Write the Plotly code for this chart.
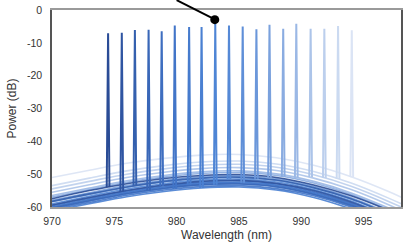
import plotly.graph_objects as go

# ---- data ----
ase_wl = [970, 973, 976, 979, 982, 985, 988, 991, 994, 997, 1000]
ase_curves = [
    [-57.5, -55.0, -52.9, -51.3, -50.4, -50.1, -51.0, -53.3, -56.6, -61.0, -66.0],
    [-59.4, -57.1, -55.0, -53.3, -52.2, -51.9, -52.8, -55.0, -58.5, -63.0, -68.0],
    [-58.3, -56.0, -53.9, -52.2, -51.2, -50.9, -51.8, -54.1, -57.5, -62.1, -67.0],
    [-60.3, -58.1, -55.9, -54.3, -53.2, -52.9, -53.8, -56.1, -59.5, -64.0, -69.0],
    [-59.6, -57.3, -55.1, -53.5, -52.4, -52.0, -52.9, -55.3, -58.8, -63.3, -68.5],
    [-60.8, -58.6, -56.4, -54.8, -53.8, -53.5, -54.4, -56.6, -60.0, -64.5, -69.5],
    [-60.0, -57.7, -55.5, -53.9, -52.8, -52.5, -53.4, -55.7, -59.2, -63.8, -69.0],
    [-61.2, -59.0, -56.9, -55.3, -54.2, -53.9, -54.8, -57.1, -60.6, -65.0, -70.0],
    [-60.5, -58.2, -56.0, -54.4, -53.3, -53.0, -53.9, -56.2, -59.7, -64.3, -69.5],
    [-59.0, -56.7, -54.5, -52.9, -51.8, -51.5, -52.4, -54.7, -58.2, -62.8, -68.0],
    [-60.0, -57.8, -55.5, -53.9, -52.8, -52.5, -53.4, -55.7, -59.1, -63.7, -69.0],
    [-58.4, -56.2, -54.0, -52.4, -51.3, -51.0, -51.9, -54.2, -57.6, -62.2, -67.5],
    [-58.0, -55.7, -53.5, -51.9, -50.8, -50.5, -51.4, -53.7, -57.2, -61.8, -67.0],
    [-57.0, -54.7, -52.5, -50.9, -49.8, -49.5, -50.4, -52.7, -56.2, -60.8, -66.0],
    [-56.5, -54.2, -52.0, -50.4, -49.3, -49.0, -49.9, -52.2, -55.7, -60.3, -65.5],
    [-55.5, -53.2, -51.0, -49.4, -48.3, -48.0, -48.9, -51.2, -54.7, -59.3, -64.5],
    [-54.5, -52.2, -50.0, -48.4, -47.3, -47.0, -47.9, -50.2, -53.7, -58.3, -63.5],
    [-53.5, -51.2, -49.0, -47.4, -46.3, -46.0, -46.9, -49.2, -52.7, -57.3, -62.5],
    [-51.0, -48.8, -46.7, -45.2, -44.2, -44.0, -45.0, -47.3, -50.8, -55.3, -60.5],
]
peak_wl = [974.5, 975.6, 976.65, 977.75, 978.8, 979.85, 981.0, 982.0, 983.1, 984.2,
           985.3, 986.4, 987.45, 988.55, 989.6, 990.75, 991.85, 992.95, 994.05]
peak_top = [-7.1, -6.9, -6.1, -6.0, -6.5, -4.7, -5.2, -5.2, -4.2, -4.7,
            -5.0, -5.9, -4.5, -5.7, -4.2, -5.7, -5.7, -4.9, -6.2]
peak_base = [-54.0, -55.3, -53.5, -55.0, -53.6, -54.5, -53.2, -54.2, -53.2, -51.6,
             -52.6, -51.4, -51.1, -50.8, -51.1, -50.9, -51.2, -51.5, -50.9]
colors = ["#2a4c96", "#2f55a2", "#3460ae", "#3967b8", "#3e6ec0", "#4275c8", "#467bcd",
          "#4a80d2", "#4e85d5", "#5589d6", "#5f8fd8", "#6b97da", "#7aa1dd", "#8aace1",
          "#9bb8e5", "#acc4e9", "#bccfed", "#cbdaf1", "#dbe4f5"]
marker_point = (983.06, -2.94)
x_ticks = [970, 975, 980, 985, 990, 995]
x_ticktext = ["970", "975", "980", "985", "990", "995"]
y_ticks = [0, -10, -20, -30, -40, -50, -60]
y_ticktext = ["0", "-10", "-20", "-30", "-40", "-50", "-60"]

fig = go.Figure()
half = 0.11
for i in reversed(range(len(ase_curves))):
    fig.add_trace(go.Scatter(
        x=ase_wl, y=ase_curves[i], mode="lines",
        line=dict(color=colors[i], width=1.6, shape="spline", smoothing=1.0),
        opacity=0.9, showlegend=False, hoverinfo="skip"))
for i in reversed(range(len(peak_wl))):
    fig.add_trace(go.Scatter(
        x=[peak_wl[i] - half, peak_wl[i], peak_wl[i] + half],
        y=[peak_base[i], peak_top[i], peak_base[i]], mode="lines",
        line=dict(color=colors[i], width=2),
        showlegend=False, hoverinfo="skip"))

fig.add_trace(go.Scatter(
    x=[marker_point[0]], y=[marker_point[1]], mode="markers",
    marker=dict(color="black", size=9), showlegend=False, cliponaxis=False))
fig.add_shape(type="line", xref="x", yref="paper",
              x0=980.0, y0=1.05, x1=marker_point[0], y1=0.952,
              line=dict(color="black", width=2))

font = "Liberation Sans, Arial, sans-serif"
fig.update_layout(
    width=407, height=244,
    margin=dict(l=52, r=6, t=4, b=36),
    paper_bgcolor="white", plot_bgcolor="white",
    font=dict(family=font, size=10.5, color="#333"),
    xaxis=dict(range=[970, 998], tickvals=x_ticks, ticktext=x_ticktext,
               showgrid=False, zeroline=False, showline=True, mirror=True,
               linecolor="#9a9a9a", linewidth=1.5, ticks="",
               ticklabelstandoff=4, ticklabeloverflow="allow",
               title=dict(text="Wavelength (nm)", font=dict(size=12, color="#333"), standoff=4)),
    yaxis=dict(range=[-60, 0], tickvals=y_ticks, ticktext=y_ticktext,
               showgrid=False, zeroline=False, showline=True, mirror=True,
               linecolor="#555", linewidth=1.5, ticks="",
               ticklabelstandoff=6, ticklabeloverflow="allow",
               title=dict(text="Power (dB)", font=dict(size=12, color="#333"), standoff=8)),
)
fig.write_html("out.html")
